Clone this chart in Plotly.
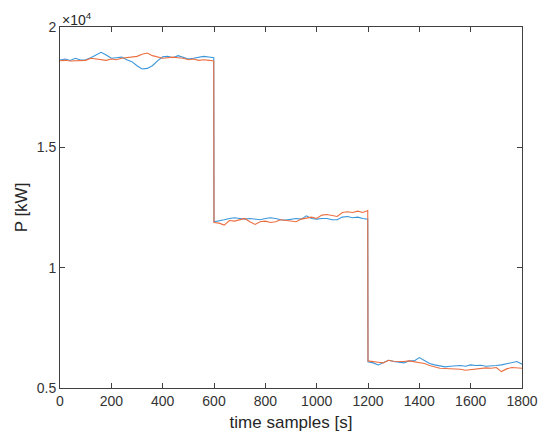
import plotly.graph_objects as go

# time samples [s] (one reading every 20 s, plus the sample just before each step)
t = list(range(0, 600, 20)) + [599] + list(range(600, 1200, 20)) + [1199] + list(range(1200, 1801, 20))

# measured power [kW] (blue)
p_blue = [
    18630, 18670, 18610, 18700, 18630, 18640, 18725, 18835, 18950, 18835,
    18700, 18725, 18750, 18640, 18560, 18390, 18255, 18280, 18390, 18590,
    18765, 18780, 18725, 18810, 18750, 18670, 18700, 18750, 18780, 18750, 18725,
    11906, 11934, 11989, 12045, 12072, 12045, 12017, 12045, 12017, 11989,
    12045, 12072, 12045, 11989, 11975, 12017, 12045, 12017, 12155, 12045,
    12017, 12045, 12045, 11989, 11989, 12100, 12128, 12072, 12100, 12045, 12017,
    6085, 6043, 5960, 6071, 6154, 6099, 6071, 6043, 6126, 6126,
    6265, 6126, 6016, 5960, 5905, 5877, 5905, 5932, 5932, 5905,
    5960, 5932, 5946, 5905, 5905, 5932, 5960, 6016, 6043, 6099, 5988,
]

# estimated power [kW] (orange)
p_orange = [
    18600, 18615, 18585, 18600, 18585, 18615, 18700, 18670, 18640, 18615,
    18670, 18640, 18700, 18725, 18725, 18780, 18865, 18920, 18810, 18750,
    18700, 18725, 18750, 18725, 18700, 18640, 18670, 18615, 18640, 18615, 18585,
    11878, 11850, 11768, 11961, 11934, 11989, 12045, 11906, 11795, 11906,
    11934, 11878, 11906, 11989, 11961, 11961, 11906, 12017, 12072, 12100,
    12045, 12183, 12211, 12155, 12128, 12294, 12322, 12294, 12350, 12294, 12377,
    6126, 6085, 6071, 6043, 6154, 6113, 6099, 6099, 6126, 6099,
    6071, 6016, 5932, 5877, 5822, 5808, 5794, 5808, 5780, 5738,
    5766, 5794, 5808, 5836, 5822, 5850, 5683, 5794, 5850, 5836, 5822,
]

x_ticks = list(range(0, 1801, 200))
y_ticks = [5000, 10000, 15000, 20000]
y_labels = ["0.5", "1", "1.5", "2"]

axis_col = "#404040"
font = dict(family="Liberation Sans, Arial, sans-serif", size=14, color="#262626")
tick_font = dict(family="Liberation Sans, Arial, sans-serif", size=14, color="#333333")

fig = go.Figure()
fig.add_trace(go.Scatter(x=t, y=p_blue, mode="lines",
                         line=dict(color="#3A96DB", width=1.1)))
fig.add_trace(go.Scatter(x=t, y=p_orange, mode="lines",
                         line=dict(color="#EC6E40", width=1.1)))

fig.update_xaxes(
    range=[0, 1800], tickvals=x_ticks, ticks="inside", ticklen=5,
    tickcolor=axis_col, showline=True, linecolor=axis_col, linewidth=1,
    mirror="ticks", showgrid=False, zeroline=False, tickfont=tick_font,
    title=dict(text="time samples [s]", standoff=8),
)
fig.update_yaxes(
    range=[5000, 20000], tickvals=y_ticks, ticktext=y_labels, ticks="inside",
    ticklen=5, tickcolor=axis_col, showline=True, linecolor=axis_col,
    linewidth=1, mirror="ticks", showgrid=False, zeroline=False,
    tickfont=tick_font, title=dict(text="P [kW]", standoff=4),
)

fig.add_annotation(
    x=0, y=1, xref="paper", yref="paper", xanchor="left", yanchor="bottom",
    text="×10<sup>4</sup>", showarrow=False, font=font, yshift=-3,
)

# the page body adds an 8 px offset, so margins are shifted to compensate
fig.update_layout(
    width=550, height=442, showlegend=False,
    paper_bgcolor="white", plot_bgcolor="white",
    font=font,
    margin=dict(l=52, r=36, t=19, b=62, autoexpand=False),
)

fig.write_html("out.html")
